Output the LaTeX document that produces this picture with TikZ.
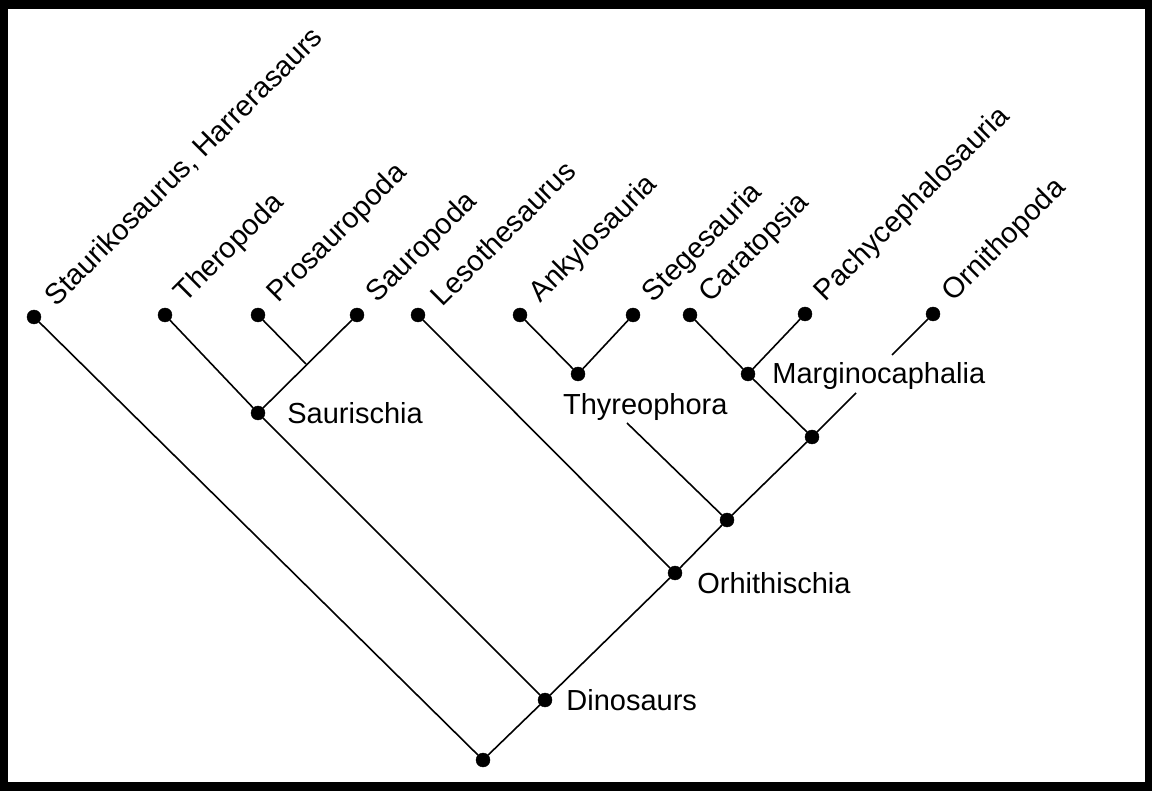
\documentclass[tikz,border=0pt]{standalone}
\usepackage{fontspec}
\setmainfont{Liberation Sans}
\usepackage{tikz}
\usetikzlibrary{shapes,arrows,positioning}
\tikzstyle{tnode} = [circle, fill, draw, inner sep = 0pt, minimum size = 14pt]
\tikzstyle{branch} = [draw, line width = 1.6pt]
\tikzstyle{taxon} = [xshift = 20pt, yshift = -7pt, rotate = 45, anchor = south west, inner sep = 0pt, label distance = 9pt, font = \fontsize{29}{34}\selectfont]
\tikzstyle{clade} = [inner sep = 0pt, font = \fontsize{29}{34}\selectfont]

\begin{document}
\begin{tikzpicture}[x = 1pt, y = -1pt]
			\useasboundingbox (0, 0) rectangle (1152, 791);
			\fill [black] (0, 0) rectangle (1152, 791);
			\fill [white] (8, 9) rectangle (1145, 782);

			% leaves
			\node [tnode, label={[taxon]45:Staurikosaurus, Harrerasaurs}] (stauri) at (34, 317) {};
			\node [tnode, label={[taxon]45:Theropoda}] (thero) at (165, 315) {};
			\node [tnode, label={[taxon]45:Prosauropoda}] (prosa) at (258, 315) {};
			\node [tnode, label={[taxon]45:Sauropoda}] (sauro) at (357, 315) {};
			\node [tnode, label={[taxon]45:Lesothesaurus}] (leso) at (418, 315) {};
			\node [tnode, label={[taxon]45:Ankylosauria}] (ankylo) at (520, 315) {};
			\node [tnode, label={[taxon]45:Stegesauria}] (stege) at (633, 315) {};
			\node [tnode, label={[taxon]45:Caratopsia}] (cerato) at (690, 315) {};
			\node [tnode, label={[taxon]45:Pachycephalosauria}] (pachy) at (805, 314) {};
			\node [tnode, label={[taxon]45:Ornithopoda}] (ornitho) at (933, 314) {};

			% inner nodes
			\node [tnode] (root) at (483, 760) {};
			\node [tnode, label={[clade, label distance = 14pt]right:Dinosaurs}] (dino) at (545, 700) {};
			\node [tnode, label={[clade, label distance = 15pt, yshift = -10pt]right:Orhithischia}] (ornithi) at (675, 573) {};
			\node [tnode] (genasaur) at (727, 520) {};
			\node [tnode] (cerapod) at (812, 437) {};
			\node [tnode, label={[clade, label distance = 17pt, yshift = -2pt]right:Marginocaphalia}] (margin) at (748, 374) {};
			\node [tnode, label={[clade, anchor = north west, xshift = -10pt, yshift = -14pt]south west:Thyreophora}] (thyreo) at (578, 374) {};
			\node [tnode, label={[clade, label distance = 22pt]right:Saurischia}] (sauri) at (258, 413) {};
			\coordinate (sjoin) at (306, 364);
			\coordinate (tgap) at (627, 423);
			\coordinate (ogap1) at (892, 355);
			\coordinate (ogap2) at (856, 393);

			\path [branch] (stauri) -- (root);
			\path [branch] (root) -- (dino);
			\path [branch] (thero) -- (sauri);
			\path [branch] (sauri) -- (dino);
			\path [branch] (sauri) -- (sauro);
			\path [branch] (prosa) -- (sjoin);
			\path [branch] (dino) -- (ornithi);
			\path [branch] (leso) -- (ornithi);
			\path [branch] (ornithi) -- (genasaur);
			\path [branch] (genasaur) -- (cerapod);
			\path [branch] (tgap) -- (genasaur);
			\path [branch] (ankylo) -- (thyreo);
			\path [branch] (stege) -- (thyreo);
			\path [branch] (cerato) -- (margin);
			\path [branch] (pachy) -- (margin);
			\path [branch] (margin) -- (cerapod);
			\path [branch] (ornitho) -- (ogap1);
			\path [branch] (ogap2) -- (cerapod);
		\end{tikzpicture}
\end{document}
